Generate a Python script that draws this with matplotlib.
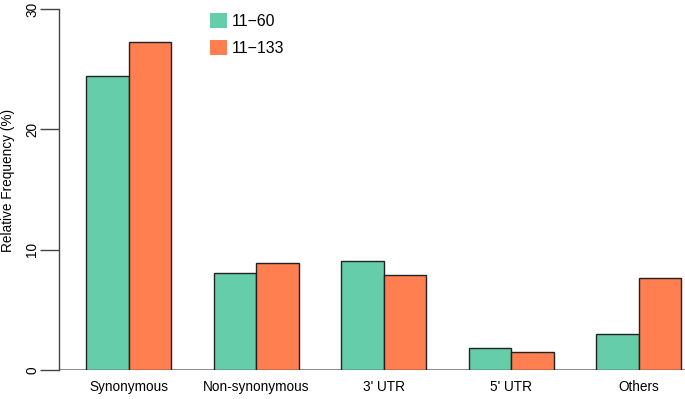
import numpy as np
import matplotlib
matplotlib.use('Agg')
import matplotlib.pyplot as plt

# data
categories = ['Synonymous', 'Non-synonymous', "3' UTR", "5' UTR", 'Others']
series_names = ['11\u221260', '11\u2212133']
freq_60 = [24.4, 8.05, 9.08, 1.83, 3.0]
freq_133 = [27.25, 8.9, 7.93, 1.5, 7.62]
colors = ['#66CDAA', '#FF7F50']

plt.rcParams['font.family'] = ['Liberation Sans', 'DejaVu Sans']
plt.rcParams['font.size'] = 9.8

fig = plt.figure(figsize=(6.85, 3.99), dpi=100)
# axes placed like the R plot region
ax = fig.add_axes([59 / 685, 29 / 399, 626 / 685, 361 / 399])

# R barplot(beside=TRUE): each group starts one bar-width after the last
left = 1 + 3 * np.arange(len(categories))
ax.bar(left, freq_60, width=1, align='edge', color=colors[0],
       edgecolor='#222222', linewidth=1, label=series_names[0], zorder=2)
ax.bar(left + 1, freq_133, width=1, align='edge', color=colors[1],
       edgecolor='#222222', linewidth=1, label=series_names[1], zorder=2)

# baseline at 0
ax.axhline(0, color='#777777', linewidth=1.2, zorder=1)

ax.set_xlim(0.365, 15.09)
ax.set_ylim(0, 30)

for s in ['top', 'right', 'bottom']:
    ax.spines[s].set_visible(False)
ax.spines['left'].set_color('#444444')
ax.spines['left'].set_linewidth(1)

ax.set_yticks([0, 10, 20, 30])
ax.tick_params(axis='y', length=13.5, width=1, color='#444444', pad=0.8)
for lab in ax.get_yticklabels():
    lab.set_rotation(90)
    lab.set_va('center')
    lab.set_ha('right')

ax.set_xticks(left + 1)
ax.set_xticklabels(categories)
ax.tick_params(axis='x', length=0, pad=7)

ax.set_ylabel('Relative Frequency (%)', va='center')
ax.yaxis.set_label_coords(-51 / 626, 0.525)

fig.legend(loc='upper left', bbox_to_anchor=(210 / 685, 1 - 13 / 399),
           bbox_transform=fig.transFigure, frameon=False, borderpad=0,
           borderaxespad=0, handlelength=1.08, handleheight=1.08,
           handletextpad=0.3, labelspacing=0.72, fontsize=11.4)
for p in fig.legends[0].get_patches():
    p.set_edgecolor('none')

fig.savefig('out.png', dpi=100)
